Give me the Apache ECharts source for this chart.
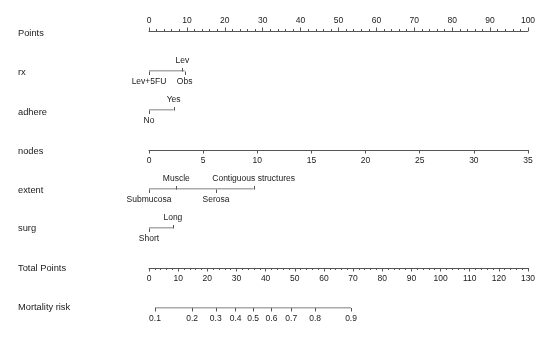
<!DOCTYPE html>
<html>
<head>
<meta charset="utf-8">
<script src="https://cdn.jsdelivr.net/npm/echarts@6/dist/echarts.min.js"></script>
<style>html,body{margin:0;padding:0;background:#fff}#c{width:554px;height:340px}</style>
</head>
<body>
<div id="c"></div>
<script>
// ---- data ----
const rowNames = ['Points', 'rx', 'adhere', 'nodes', 'extent', 'surg', 'Total Points', 'Mortality risk'];
const rxLevels = ['Lev+5FU', 'Lev', 'Obs'];
const rxPoints = [0, 8.8, 9.4];
const adhereLevels = ['No', 'Yes'];
const adherePoints = [0, 6.5];
const extentLevels = ['Submucosa', 'Muscle', 'Serosa', 'Contiguous structures'];
const extentPoints = [0, 7.2, 17.7, 27.6];
const surgLevels = ['Short', 'Long'];
const surgPoints = [0, 6.3];
const nodesMax = 35;
const totalMax = 130;
const riskLabels = ['0.1', '0.2', '0.3', '0.4', '0.5', '0.6', '0.7', '0.8', '0.9'];
const riskTotalPoints = [2.05, 14.8, 22.9, 29.7, 35.7, 42.0, 48.8, 57.0, 69.3];

// ---- layout ----
const lineY = [31, 71, 110, 150, 189, 228, 268, 308];
const labelY = [33, 72, 112, 151, 190, 228, 268, 307];
const GL = 149, GW = 379;
const lineColor = '#555';
const textColor = '#1a1a1a';
const font = 'Liberation Sans, Arial, sans-serif';

const grids = [], xAxes = [], yAxes = [], series = [], graphics = [];
lineY.forEach((y, i) => {
  if (i === 0) {
    grids.push({ left: GL, width: GW, top: y, height: 20 });
    yAxes.push({ gridIndex: i, type: 'value', min: -1, max: 0, show: false });
  } else {
    grids.push({ left: GL, width: GW, top: y - 20, height: 20 });
    yAxes.push({ gridIndex: i, type: 'value', min: 0, max: 1, show: false });
  }
});

const baseAxis = (i, extra) => Object.assign({
  gridIndex: i, type: 'value', min: 0, max: 100,
  axisLine: { show: true, onZero: false, lineStyle: { color: lineColor, width: 1 } },
  axisTick: { show: true, length: 3.5, lineStyle: { color: lineColor } },
  axisLabel: { show: true, color: textColor, fontSize: 8.5, fontFamily: font, margin: 6, hideOverlap: false, showMinLabel: true, showMaxLabel: true },
  splitLine: { show: false }
}, extra);

// Points
xAxes.push(baseAxis(0, {
  position: 'top', interval: 10,
  minorTick: { show: true, splitNumber: 5, length: 2, lineStyle: { color: lineColor } }
}));

function catRow(idx, levels, pts) {
  xAxes.push(baseAxis(idx, { show: false }));
  const order = pts.map((p, k) => k).sort((a, b) => pts[a] - pts[b]);
  const side = [];
  order.forEach((k, r) => { side[k] = (r % 2 === 0) ? -1 : 1; });
  series.push({
    type: 'line', xAxisIndex: idx, yAxisIndex: idx, symbol: 'none', silent: true,
    data: [[Math.min(...pts), 0], [Math.max(...pts), 0]],
    lineStyle: { color: lineColor, width: 1 }
  });
  series.push({
    type: 'custom', xAxisIndex: idx, yAxisIndex: idx, silent: true,
    data: pts.map((p, k) => [p, side[k]]),
    renderItem: (params, api) => {
      const s = api.value(1);
      const c = api.coord([api.value(0), 0]);
      const x = Math.round(c[0]) + 0.5, y = Math.round(c[1]) + 0.5;
      return {
        type: 'group', children: [
          { type: 'line', shape: { x1: x, y1: y, x2: x, y2: y - s * 3.5 }, style: { stroke: lineColor, lineWidth: 1 } },
          { type: 'text', x: c[0], y: c[1] - s * (s > 0 ? 10 : 11),
            style: { text: levels[params.dataIndex], fill: textColor, font: '8.5px ' + font, align: 'center', verticalAlign: 'middle' } }
        ]
      };
    }
  });
}

catRow(1, rxLevels, rxPoints);
catRow(2, adhereLevels, adherePoints);

// nodes
xAxes.push(baseAxis(3, { position: 'bottom', max: nodesMax, interval: 5 }));

catRow(4, extentLevels, extentPoints);
catRow(5, surgLevels, surgPoints);

// Total points
xAxes.push(baseAxis(6, {
  position: 'bottom', max: totalMax, interval: 10,
  minorTick: { show: true, splitNumber: 5, length: 2, lineStyle: { color: lineColor } }
}));

// Mortality risk
xAxes.push(baseAxis(7, {
  position: 'bottom', max: totalMax,
  axisLine: { show: false, onZero: false },
  axisTick: { show: true, length: 3.5, lineStyle: { color: lineColor }, customValues: riskTotalPoints },
  axisLabel: { show: true, color: textColor, fontSize: 8.5, fontFamily: font, margin: 6, customValues: riskTotalPoints,
    formatter: (v) => {
      let best = 0;
      riskTotalPoints.forEach((p, k) => { if (Math.abs(p - v) < Math.abs(riskTotalPoints[best] - v)) best = k; });
      return riskLabels[best];
    } }
}));
series.push({
  type: 'line', xAxisIndex: 7, yAxisIndex: 7, symbol: 'none', silent: true,
  data: [[riskTotalPoints[0], 0], [riskTotalPoints[riskTotalPoints.length - 1], 0]],
  lineStyle: { color: lineColor, width: 1 }
});

// row names
rowNames.forEach((n, i) => {
  graphics.push({ type: 'text', x: 18, y: labelY[i],
    style: { text: n, fill: textColor, font: '9.3px ' + font, textAlign: 'left', textVerticalAlign: 'middle' } });
});

const chart = echarts.init(document.getElementById('c'), null, { renderer: 'canvas' });
chart.setOption({
  backgroundColor: '#fff',
  animation: false,
  grid: grids, xAxis: xAxes, yAxis: yAxes, series: series, graphic: graphics
});
</script>
</body>
</html>
